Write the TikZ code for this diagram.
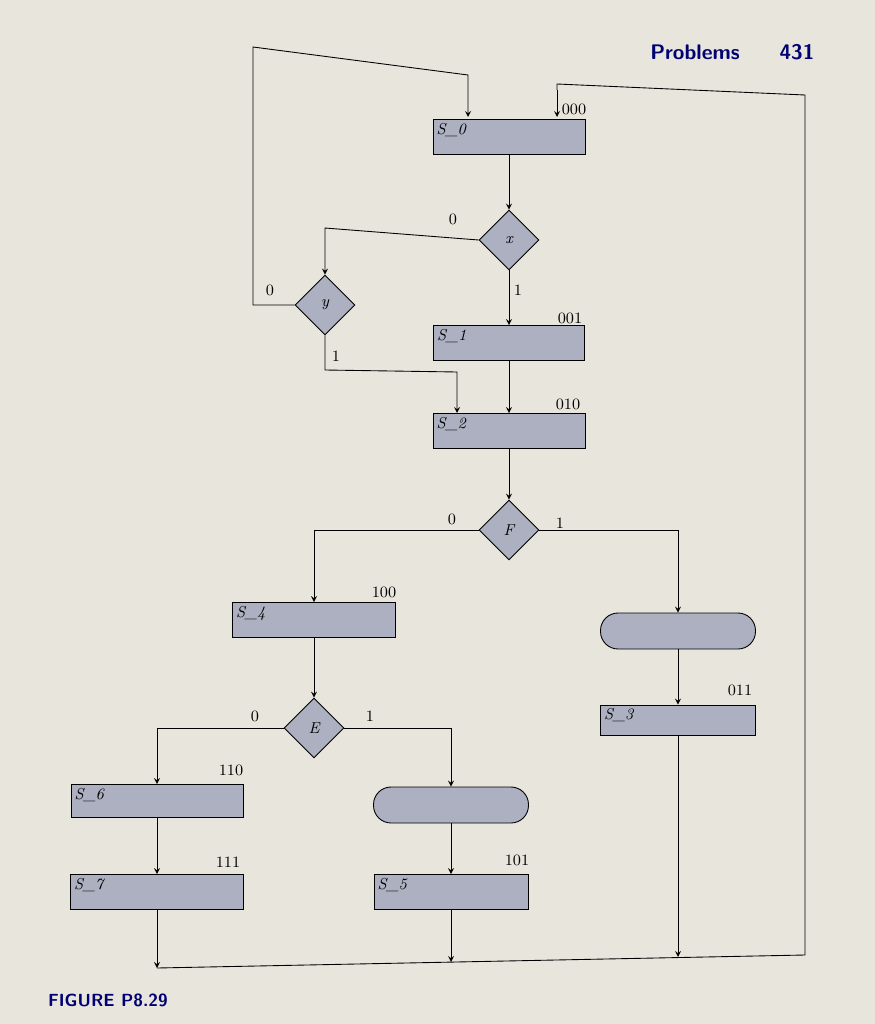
\documentclass[tikz,border=0pt]{standalone}
\usepackage{tikz}
\usetikzlibrary{shapes.geometric, arrows, calc}
\definecolor{paper}{RGB}{232,229,220}
\definecolor{boxfill}{RGB}{172,176,192}
\tikzstyle{arrow} = [->,>=stealth]
\tikzstyle{statebox} = [draw, fill=boxfill, minimum height=0.7cm, inner sep=0pt]
\tikzstyle{decision} = [diamond, draw, fill=boxfill, minimum width=1.2cm, minimum height=1.2cm, inner sep=0pt, font=\small\itshape]
\tikzstyle{outbox} = [draw, fill=boxfill, rounded corners=0.35cm, minimum width=3.1cm, minimum height=0.72cm]
\tikzstyle{code} = [font=\small]

\begin{document}
\begin{tikzpicture}[x=0.02cm, y=-0.02cm, line width=0.5pt]

        % page
        \fill[paper] (0,0) rectangle (875,1024);
        \node at (695,52) [font=\sffamily\bfseries\large, text=blue!45!black] (head) {Problems};
        \node at (797,52) [font=\sffamily\bfseries\large, text=blue!45!black] (page) {431};

        % states
        \node at (509,137) [statebox, minimum width=3.04cm, label={[anchor=north west, inner sep=2pt, font=\small\itshape]north west:S\_0}] (s0) {};
        \node at (509,343) [statebox, minimum width=3.02cm, label={[anchor=north west, inner sep=2pt, font=\small\itshape]north west:S\_1}] (s1) {};
        \node at (509,431) [statebox, minimum width=3.04cm, label={[anchor=north west, inner sep=2pt, font=\small\itshape]north west:S\_2}] (s2) {};
        \node at (314,620) [statebox, minimum width=3.26cm, label={[anchor=north west, inner sep=2pt, font=\small\itshape]north west:S\_4}] (s4) {};
        \node at (678,720) [statebox, minimum width=3.1cm, minimum height=0.6cm, label={[anchor=north west, inner sep=2pt, font=\small\itshape]north west:S\_3}] (s3) {};
        \node at (157,801) [statebox, minimum width=3.44cm, minimum height=0.66cm, label={[anchor=north west, inner sep=2pt, font=\small\itshape]north west:S\_6}] (s6) {};
        \node at (157,892) [statebox, minimum width=3.46cm, label={[anchor=north west, inner sep=2pt, font=\small\itshape]north west:S\_7}] (s7) {};
        \node at (451,892) [statebox, minimum width=3.08cm, label={[anchor=north west, inner sep=2pt, font=\small\itshape]north west:S\_5}] (s5) {};

        % conditional outputs
        \node at (678,631) [outbox] (oa) {};
        \node at (451,805) [outbox] (ob) {};

        % decisions
        \node at (509,240) [decision] (x) {x};
        \node at (325,305) [decision] (y) {y};
        \node at (509,530) [decision] (f) {F};
        \node at (314,728) [decision] (e) {E};

        % codes
        \node at (574,109) [code] (c0) {000};
        \node at (570,318) [code] (c1) {001};
        \node at (568,404) [code] (c2) {010};
        \node at (384,592) [code] (c4) {100};
        \node at (740,690) [code] (c3) {011};
        \node at (231,770) [code] (c6) {110};
        \node at (228,862) [code] (c7) {111};
        \node at (517,860) [code] (c5) {101};

        % branch labels
        \node at (453,219) [code] (x0) {0};
        \node at (518,290) [code] (x1) {1};
        \node at (270,290) [code] (y0) {0};
        \node at (336,356) [code] (y1) {1};
        \node at (452,519) [code] (f0) {0};
        \node at (560,523) [code] (f1) {1};
        \node at (255,716) [code] (e0) {0};
        \node at (370,716) [code] (e1) {1};

        % return paths
        \coordinate (bl) at (157,968);
        \coordinate (br) at (805,955);
        \draw (bl) -- (br) -- (805,95) -- (557,84) -- (557,90);
        \draw[arrow] (557,90) -- (557,117);
        \draw[arrow] (y.west) -| (253,47) -- (468,75) -- (468,117);

        % main flow
        \draw[arrow] (s0) -- (x);
        \draw[arrow] (x.west) -- (325,228) -- (y.north);
        \draw[arrow] (x) -- (s1);
        \draw[arrow] (y.south) -- (325,370) -- (457,372) -- (457,413);
        \draw[arrow] (s1) -- (s2);
        \draw[arrow] (s2) -- (f);
        \draw[arrow] (f.west) -| (s4.north);
        \draw[arrow] (f.east) -| (oa.north);
        \draw[arrow] (oa) -- (s3);
        \draw[arrow] (s4) -- (e);
        \draw[arrow] (e.west) -| (s6.north);
        \draw[arrow] (e.east) -| (ob.north);
        \draw[arrow] (s6) -- (s7);
        \draw[arrow] (ob) -- (s5);
        \draw[arrow] (s7.south) -- (bl);
        \draw[arrow] (s5.south) -- (451,962);
        \draw[arrow] (s3.south) -- (678,957);

        % caption
        \node at (108,1000) [font=\sffamily\bfseries, text=blue!45!black] (cap) {FIGURE P8.29};

\end{tikzpicture}
\end{document}
